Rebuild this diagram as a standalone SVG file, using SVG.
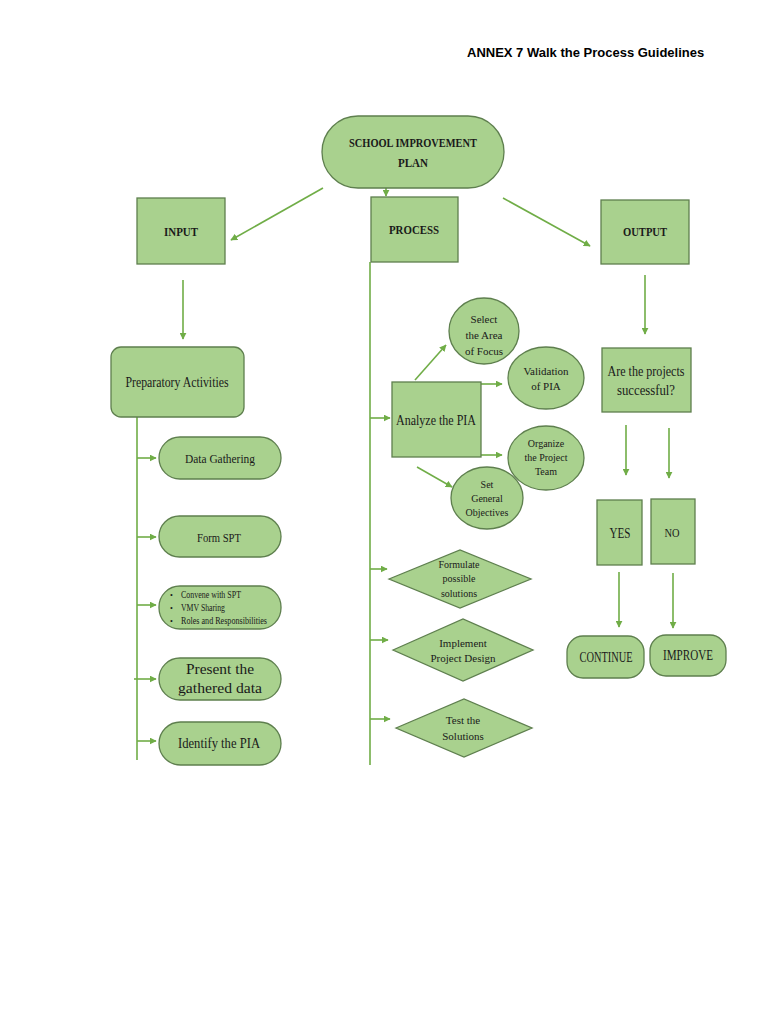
<svg xmlns="http://www.w3.org/2000/svg" width="768" height="1024" viewBox="0 0 768 1024">
<defs>
<marker id="ah" viewBox="0 0 10 10" refX="9" refY="5" markerWidth="7" markerHeight="7" orient="auto" markerUnits="userSpaceOnUse">
<path d="M0,0 L10,5 L0,10 z" fill="#70AD47"/>
</marker>
<style>
.n{fill:#A9D18E;stroke:#5E7F4E;stroke-width:1.3}
.c{stroke:#70AD47;stroke-width:1.6;fill:none}
.a{stroke:#70AD47;stroke-width:1.6;fill:none;marker-end:url(#ah)}
text{font-family:"Liberation Serif","DejaVu Serif",serif;fill:#1a1a1a;text-anchor:middle}
.b{font-weight:bold}
.l{text-anchor:start}
.h{font-family:"Liberation Sans","DejaVu Sans",sans-serif;font-weight:bold;font-size:13px;text-anchor:start;fill:#000}
</style>
</defs>
<rect width="768" height="1024" fill="#fff"/>
<text class="h" x="467" y="57">ANNEX 7 Walk the Process Guidelines</text>

<g id="connectors">
<line class="a" x1="323" y1="188" x2="231" y2="240"/>
<line class="a" x1="386" y1="188" x2="386" y2="196"/>
<line class="a" x1="503" y1="198" x2="590" y2="246"/>
<line class="a" x1="183" y1="280" x2="183" y2="339"/>
<line class="c" x1="137" y1="417" x2="137" y2="760"/>
<line class="a" x1="137" y1="458" x2="156" y2="458"/>
<line class="a" x1="137" y1="537" x2="156" y2="537"/>
<line class="a" x1="137" y1="605" x2="156" y2="605"/>
<line class="a" x1="134" y1="679" x2="156" y2="679"/>
<line class="a" x1="137" y1="741" x2="156" y2="741"/>
<line class="c" x1="370" y1="262" x2="370" y2="765"/>
<line class="a" x1="370" y1="418" x2="390" y2="418"/>
<line class="a" x1="370" y1="569" x2="387" y2="569"/>
<line class="a" x1="370" y1="640" x2="388" y2="640"/>
<line class="a" x1="370" y1="719" x2="390" y2="719"/>
<line class="a" x1="415" y1="380" x2="446" y2="345"/>
<line class="a" x1="481" y1="384" x2="502" y2="384"/>
<line class="a" x1="481" y1="455" x2="502" y2="455"/>
<line class="a" x1="417" y1="467" x2="452" y2="487"/>
<line class="a" x1="645" y1="275" x2="645" y2="334"/>
<line class="a" x1="626" y1="425" x2="626" y2="475"/>
<line class="a" x1="669" y1="428" x2="669" y2="478"/>
<line class="a" x1="619" y1="572" x2="619" y2="627"/>
<line class="a" x1="673" y1="573" x2="673" y2="628"/>
</g>

<g id="sip"><rect class="n" x="322" y="116" width="182" height="72" rx="36"/>
<text class="b" x="413" y="147" font-size="13" textLength="128" lengthAdjust="spacingAndGlyphs">SCHOOL IMPROVEMENT</text>
<text class="b" x="413" y="167" font-size="13" textLength="30" lengthAdjust="spacingAndGlyphs">PLAN</text></g>

<g id="input"><rect class="n" x="137" y="198" width="88" height="66"/>
<text class="b" x="181" y="236" font-size="13" textLength="34" lengthAdjust="spacingAndGlyphs">INPUT</text></g>
<g id="process"><rect class="n" x="371" y="197" width="87" height="65"/>
<text class="b" x="414" y="234" font-size="13" textLength="50" lengthAdjust="spacingAndGlyphs">PROCESS</text></g>
<g id="output"><rect class="n" x="601" y="200" width="88" height="64"/>
<text class="b" x="645" y="236" font-size="13" textLength="44" lengthAdjust="spacingAndGlyphs">OUTPUT</text></g>

<g id="prep"><rect class="n" x="111" y="347" width="133" height="70" rx="10"/>
<text x="177" y="387" font-size="15" textLength="103" lengthAdjust="spacingAndGlyphs">Preparatory Activities</text></g>

<g id="data"><rect class="n" x="159" y="437" width="122" height="42" rx="21"/>
<text x="220" y="463" font-size="13" textLength="70" lengthAdjust="spacingAndGlyphs">Data Gathering</text></g>
<g id="formspt"><rect class="n" x="159" y="516" width="122" height="41" rx="20.5"/>
<text x="219" y="542" font-size="13" textLength="44" lengthAdjust="spacingAndGlyphs">Form SPT</text></g>
<g id="convene"><rect class="n" x="159" y="586" width="122" height="43" rx="21"/>
<text class="l" x="170" y="598" font-size="8">•</text><text class="l" x="181" y="598" font-size="10" textLength="60" lengthAdjust="spacingAndGlyphs">Convene with SPT</text>
<text class="l" x="170" y="611" font-size="8">•</text><text class="l" x="181" y="611" font-size="10" textLength="44" lengthAdjust="spacingAndGlyphs">VMV Sharing</text>
<text class="l" x="170" y="624" font-size="8">•</text><text class="l" x="181" y="624" font-size="10" textLength="86" lengthAdjust="spacingAndGlyphs">Roles and Responsibilities</text>
</g>
<g id="present"><rect class="n" x="159" y="658" width="122" height="42" rx="21"/>
<text x="220" y="674" font-size="15" textLength="68" lengthAdjust="spacingAndGlyphs">Present the</text>
<text x="220" y="693" font-size="15" textLength="84" lengthAdjust="spacingAndGlyphs">gathered data</text></g>
<g id="identify"><rect class="n" x="159" y="722" width="122" height="43" rx="21.5"/>
<text x="219" y="748" font-size="15" textLength="82" lengthAdjust="spacingAndGlyphs">Identify the PIA</text></g>

<g id="analyze"><rect class="n" x="392" y="382" width="89" height="75"/>
<text x="436" y="425" font-size="15" textLength="80" lengthAdjust="spacingAndGlyphs">Analyze the PIA</text></g>
<g id="select"><ellipse class="n" cx="484" cy="331" rx="35" ry="33"/>
<text x="484" y="323" font-size="11">Select</text>
<text x="484" y="339" font-size="11">the Area</text>
<text x="484" y="355" font-size="11">of Focus</text></g>
<g id="validation"><ellipse class="n" cx="546" cy="378" rx="38" ry="31"/>
<text x="546" y="375" font-size="11">Validation</text>
<text x="546" y="390" font-size="11">of PIA</text></g>
<g id="organize"><ellipse class="n" cx="546" cy="458" rx="38" ry="32"/>
<text x="546" y="447" font-size="10">Organize</text>
<text x="546" y="461" font-size="10">the Project</text>
<text x="546" y="475" font-size="10">Team</text></g>
<g id="setobj"><ellipse class="n" cx="487" cy="498" rx="36" ry="31"/>
<text x="487" y="488" font-size="10">Set</text>
<text x="487" y="502" font-size="10">General</text>
<text x="487" y="516" font-size="10">Objectives</text></g>

<g id="formulate"><polygon class="n" points="389,579 460,550 531,579 460,608"/>
<text x="459" y="568" font-size="10">Formulate</text>
<text x="459" y="582" font-size="10">possible</text>
<text x="459" y="597" font-size="10">solutions</text></g>
<g id="implement"><polygon class="n" points="393,650 463,619 533,650 463,681"/>
<text x="463" y="647" font-size="11">Implement</text>
<text x="463" y="662" font-size="11">Project Design</text></g>
<g id="test"><polygon class="n" points="396,728 464,699 532,728 464,757"/>
<text x="463" y="724" font-size="11">Test the</text>
<text x="463" y="740" font-size="11">Solutions</text></g>

<g id="successful"><rect class="n" x="602" y="348" width="89" height="64"/>
<text x="646" y="376" font-size="15" textLength="77" lengthAdjust="spacingAndGlyphs">Are the projects</text>
<text x="646" y="395" font-size="15" textLength="58" lengthAdjust="spacingAndGlyphs">successful?</text></g>
<g id="yes"><rect class="n" x="597" y="500" width="45" height="65"/>
<text x="620" y="538" font-size="14" textLength="21" lengthAdjust="spacingAndGlyphs">YES</text></g>
<g id="no"><rect class="n" x="651" y="499" width="44" height="65"/>
<text x="672" y="537" font-size="13" textLength="15" lengthAdjust="spacingAndGlyphs">NO</text></g>
<g id="continue"><rect class="n" x="567" y="636" width="77" height="42" rx="16"/>
<text x="606" y="662" font-size="14" textLength="53" lengthAdjust="spacingAndGlyphs">CONTINUE</text></g>
<g id="improve"><rect class="n" x="650" y="635" width="76" height="41" rx="16"/>
<text x="688" y="660" font-size="14" textLength="50" lengthAdjust="spacingAndGlyphs">IMPROVE</text></g>
</svg>
